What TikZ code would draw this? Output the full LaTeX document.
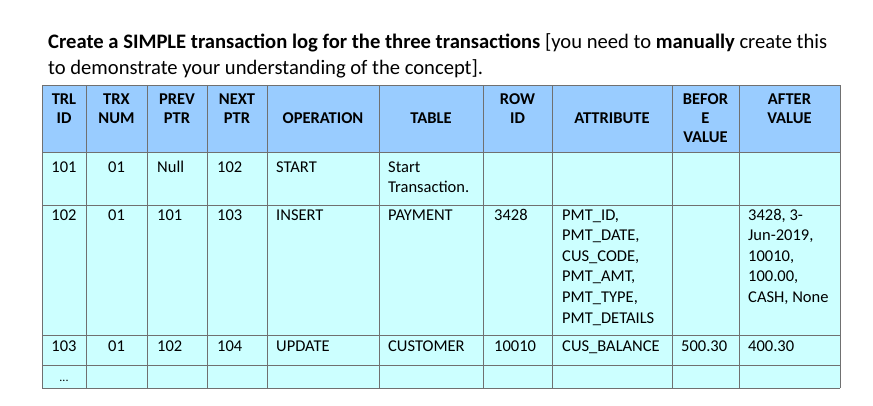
\documentclass[tikz,border=0pt]{standalone}
\usepackage{fontspec}
\setmainfont{Carlito}
\definecolor{hdr}{HTML}{99CCFF}
\definecolor{bod}{HTML}{CCFFFF}
\definecolor{grid}{HTML}{707070}
\begin{document}
\begin{tikzpicture}[x=1pt,y=-1pt,
  cell/.style={anchor=base west,inner sep=0pt,font=\fontsize{16.5}{20}\selectfont,align=left},
  ccell/.style={anchor=base,inner sep=0pt,font=\fontsize{16.5}{20}\selectfont,align=center},
  hd/.style={anchor=base,inner sep=0pt,font=\fontsize{16.5}{19}\selectfont\bfseries,align=center},
  gl/.style={draw=grid,line width=0.8pt}]
\useasboundingbox (0,0) rectangle (873,405);
\fill[white] (0,0) rectangle (873,405);
\node[anchor=base west,inner sep=0pt,font=\fontsize{20.6}{26}\selectfont,align=left] (title) at (48,74)
 {\textbf{Create a SIMPLE transaction log for the three transactions} [you need to \textbf{manually} create this\\to demonstrate your understanding of the concept].};
\fill[hdr] (42,85) rectangle (840,152);
\fill[bod] (42,152) rectangle (840,388);
\foreach \x in {42,86,147,207,267,379,483,552,672,739,840} \draw[gl] (\x,85) -- (\x,388);
\foreach \y in {85,152,205,335,365,388} \draw[gl] (42,\y) -- (840,\y);
% header
\node[hd] (h1) at (64,123) {TRL\\ID};
\node[hd] (h2) at (116.5,123) {TRX\\NUM};
\node[hd] (h3) at (177,123) {PREV\\PTR};
\node[hd] (h4) at (237,123) {NEXT\\PTR};
\node[hd] (h5) at (323,123) {OPERATION};
\node[hd] (h6) at (431,123) {TABLE};
\node[hd] (h7) at (517.5,123) {ROW\\ID};
\node[hd] (h8) at (612,123) {ATTRIBUTE};
\node[hd] (h9) at (705.5,142) {BEFOR\\E\\VALUE};
\node[hd] (h10) at (789.5,123) {AFTER\\VALUE};
% row 1
\node[ccell] (a1) at (64,172) {101};
\node[ccell] (a2) at (116.5,172) {01};
\node[cell] (a3) at (157,172) {Null};
\node[cell] (a4) at (217,172) {102};
\node[cell] (a5) at (276,172) {START};
\node[cell] (a6) at (388,192) {Start\\Transaction.};
% row 2
\node[ccell] (b1) at (64,220) {102};
\node[ccell] (b2) at (116.5,220) {01};
\node[cell] (b3) at (157,220) {101};
\node[cell] (b4) at (217,220) {103};
\node[cell] (b5) at (276,220) {INSERT};
\node[cell] (b6) at (388,220) {PAYMENT};
\node[cell] (b7) at (494,220) {3428};
\node[cell,font=\fontsize{16.5}{20.6}\selectfont] (b8) at (562,323) {PMT\_ID,\\PMT\_DATE,\\CUS\_CODE,\\PMT\_AMT,\\PMT\_TYPE,\\PMT\_DETAILS};
\node[cell,font=\fontsize{16.5}{20.6}\selectfont] (b10) at (748,302.4) {3428, 3-\\Jun-2019,\\10010,\\100.00,\\CASH, None};
% row 3
\node[ccell] (c1) at (64,351) {103};
\node[ccell] (c2) at (116.5,351) {01};
\node[cell] (c3) at (157,351) {102};
\node[cell] (c4) at (217,351) {104};
\node[cell] (c5) at (276,351) {UPDATE};
\node[cell] (c6) at (388,351) {CUSTOMER};
\node[cell] (c7) at (494,351) {10010};
\node[cell] (c8) at (562,351) {CUS\_BALANCE};
\node[cell] (c9) at (681,351) {500.30};
\node[cell] (c10) at (748,351) {400.30};
% row 4
\node[ccell,font=\fontsize{12}{12}\selectfont] (d1) at (64,381) {...};
\end{tikzpicture}
\end{document}
